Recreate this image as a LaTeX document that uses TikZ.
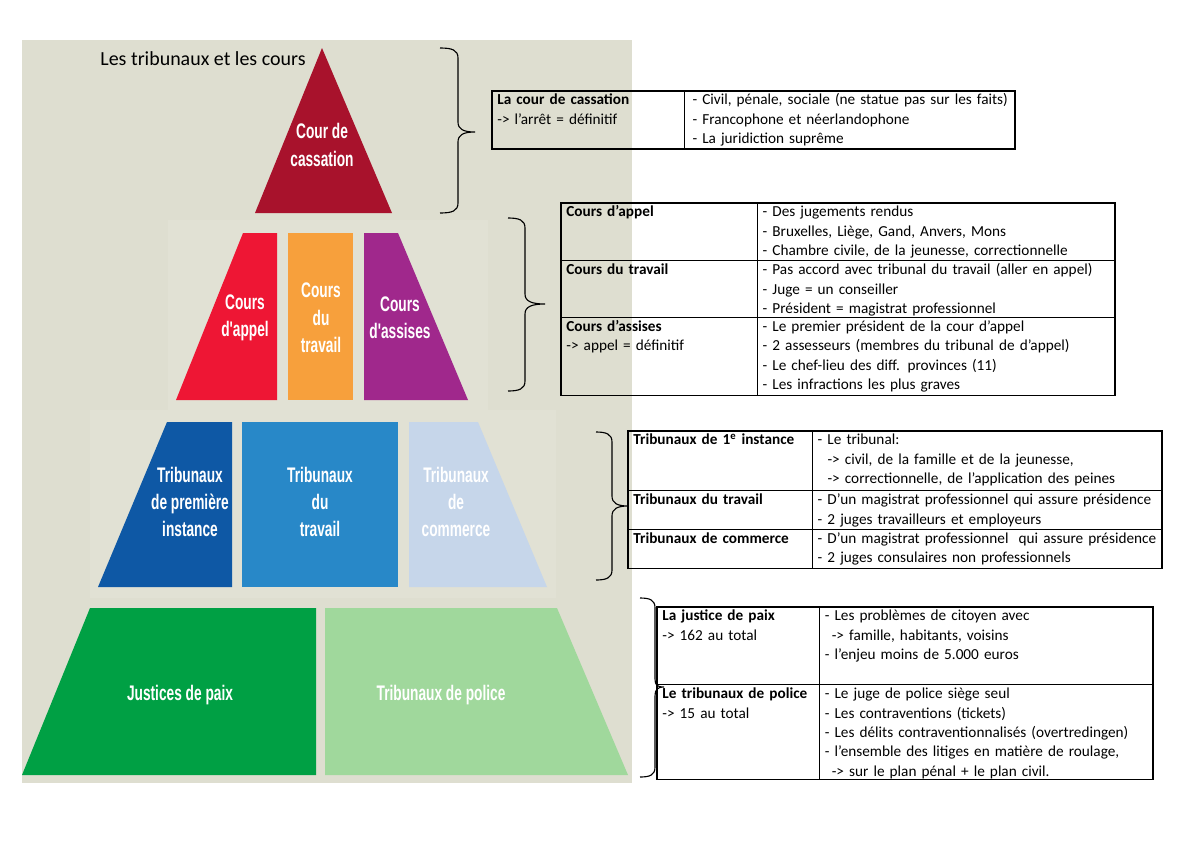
\documentclass[tikz,border=0pt]{standalone}
\usepackage{fontspec}
\setmainfont{Carlito}
\newfontfamily\pyrfont[FakeStretch=0.65]{Liberation Sans}
\usepackage{xcolor}
\usetikzlibrary{positioning}

\definecolor{panelbg}{RGB}{222,222,208}
\definecolor{stripbg}{RGB}{225,225,212}
\definecolor{cassred}{RGB}{168,18,44}
\definecolor{appelred}{RGB}{238,22,52}
\definecolor{travorange}{RGB}{247,160,60}
\definecolor{assispurple}{RGB}{160,40,140}
\definecolor{bluedark}{RGB}{14,88,165}
\definecolor{bluemid}{RGB}{40,136,200}
\definecolor{bluelight}{RGB}{198,214,234}
\definecolor{greendark}{RGB}{0,160,68}
\definecolor{greenlight}{RGB}{160,216,156}

\begin{document}
\begin{tikzpicture}[
x=0.025cm, y=-0.025cm,
lbl/.style={text=white, align=center, font=\pyrfont\bfseries\fontsize{15}{19.5}\selectfont},
cell/.style={draw, line width=0.6pt, anchor=north west, outer sep=0pt, inner xsep=3.8pt, inner ysep=0pt, align=left, text height=9.9pt, font=\fontsize{10.85}{13.8}\selectfont},
frame/.style={draw, line width=1.1pt},
curly/.style={line width=0.8pt}
]
\useasboundingbox (0,0) rectangle (1200,848);
\fill[white] (0,0) rectangle (1200,848);
\fill[panelbg] (22,40) rectangle (632,783);
\fill[stripbg] (168,220) rectangle (488,410);
\fill[stripbg] (90,410) rectangle (556,598);

% pyramid
\fill[cassred] (322,48) -- (392,213) -- (255,213) -- cycle;
\fill[appelred] (243,233) -- (277,233) -- (277,400) -- (176,400) -- cycle;
\fill[travorange] (288,233) rectangle (353,400);
\fill[assispurple] (364,233) -- (398,233) -- (468,400) -- (364,400) -- cycle;
\fill[bluedark] (167,422) -- (232,422) -- (232,587) -- (98,587) -- cycle;
\fill[bluemid] (242,422) rectangle (398,587);
\fill[bluelight] (409,422) -- (478,422) -- (547,587) -- (409,587) -- cycle;
\fill[greendark] (90,608) -- (316,608) -- (316,775) -- (22,775) -- cycle;
\fill[greenlight] (325,608) -- (557,608) -- (628,775) -- (325,775) -- cycle;

\node[font=\fontsize{14.2}{17}\selectfont] (title) at (203,59) {Les tribunaux et les cours};
\node[lbl] (lcass) at (322,145) {Cour de\\cassation};
\node[lbl] (lappel) at (245,318) {Cours\\d'appel};
\node[lbl] (ltrav) at (321,318) {Cours\\du\\travail};
\node[lbl] (lassis) at (400,318) {Cours\\d'assises};
\node[lbl] (linst) at (190,502) {Tribunaux\\de première\\instance};
\node[lbl] (lttrav) at (320,502) {Tribunaux\\du\\travail};
\node[lbl] (lcomm) at (456,502) {Tribunaux\\de\\commerce};
\node[lbl] (lpaix) at (180,695) {Justices de paix};
\node[lbl] (lpolice) at (441,695) {Tribunaux de police};

% braces
\draw[curly] (440,48) .. controls (452,48) and (458,50) .. (458,58) -- (458,122)
  .. controls (458,129) and (463,132) .. (475,132) .. controls (463,132) and (458,135) .. (458,142)
  -- (458,203) .. controls (458,211) and (452,213) .. (440,213);
\draw[curly] (508,218) .. controls (519,218) and (525,220) .. (525,228) -- (525,294)
  .. controls (525,301) and (531,304) .. (545,304) .. controls (531,304) and (525,307) .. (525,314)
  -- (525,381) .. controls (525,389) and (519,391) .. (508,391);
\draw[curly] (596,432) .. controls (606,432) and (612,434) .. (612,442) -- (612,496)
  .. controls (612,503) and (617,506) .. (628,506) .. controls (617,506) and (612,509) .. (612,516)
  -- (612,570) .. controls (612,578) and (606,580) .. (596,580);
\draw[curly] (640,598) .. controls (650,598) and (655,600) .. (655,608) -- (655,679)
  .. controls (655,685) and (657,687) .. (664,687) .. controls (657,687) and (655,690) .. (655,696)
  -- (655,767) .. controls (655,775) and (650,777) .. (640,777);

% table: cour de cassation
\node[cell, text width=129.2pt, text depth=31.2pt] (cassL) at (492,91) {\textbf{La cour de cassation}\\-> l’arrêt = définitif};
\node[cell, right=0pt of cassL, text width=227.7pt, text depth=31.2pt] (cassR) {\hspace*{2pt}- Civil, pénale, sociale (ne statue pas sur les faits)\\\hspace*{2pt}- Francophone et néerlandophone\\\hspace*{2pt}- La juridiction suprême};
\draw[frame] (cassL.north west) rectangle (cassR.south east);

% table: cours
\node[cell, text width=132pt, text depth=31.2pt] (appelL) at (561,203) {\textbf{Cours d’appel}};
\node[cell, right=0pt of appelL, text width=246.8pt, text depth=31.2pt] (appelR) {- Des jugements rendus\\- Bruxelles, Liège, Gand, Anvers, Mons\\- Chambre civile, de la jeunesse, correctionnelle};
\node[cell, below=0pt of appelL, text width=132pt, text depth=30.5pt] (travL) {\textbf{Cours du travail}};
\node[cell, right=0pt of travL, text width=246.8pt, text depth=30.5pt] (travR) {- Pas accord avec tribunal du travail (aller en appel)\\- Juge = un conseiller\\- Président = magistrat professionnel};
\node[cell, below=0pt of travL, text width=132pt, text depth=45.4pt] (assisL) {\textbf{Cours d’assises}\\-> appel = définitif};
\node[cell, right=0pt of assisL, text width=246.8pt, text depth=45.4pt] (assisR) {- Le premier président de la cour d’appel\\- 2 assesseurs (membres du tribunal de d’appel)\\- Le chef-lieu des diff. provinces (11)\\- Les infractions les plus graves};
\draw[frame] (appelL.north west) rectangle (assisR.south east);

% table: tribunaux
\node[cell, text width=123.5pt, text depth=32.6pt] (instL) at (628,431) {\textbf{Tribunaux de 1\textsuperscript{e} instance}};
\node[cell, right=0pt of instL, text width=241.2pt, text depth=32.6pt] (instR) {- Le tribunal:\\\hspace*{7pt}-> civil, de la famille et de la jeunesse,\\\hspace*{7pt}-> correctionnelle, de l’application des peines};
\node[cell, below=0pt of instL, text width=123.5pt, text depth=17.7pt] (ttravL) {\textbf{Tribunaux du travail}};
\node[cell, right=0pt of ttravL, text width=241.2pt, text depth=17.7pt] (ttravR) {\mbox{- D’un magistrat professionnel qui assure présidence}\\- 2 juges travailleurs et employeurs};
\node[cell, below=0pt of ttravL, text width=123.5pt, text depth=17.7pt] (commL) {\textbf{Tribunaux de commerce}};
\node[cell, right=0pt of commL, text width=241.2pt, text depth=17.7pt] (commR) {\mbox{- D’un magistrat professionnel\ \ qui assure présidence}\\- 2 juges consulaires non professionnels};
\draw[frame] (instL.north west) rectangle (commR.south east);

% table: paix et police
\node[cell, text width=107.9pt, text depth=45.4pt] (paixL) at (657,607) {\textbf{La justice de paix}\\-> 162 au total};
\node[cell, right=0pt of paixL, text width=229.8pt, text depth=45.4pt] (paixR) {- Les problèmes de citoyen avec\\\hspace*{5pt}-> famille, habitants, voisins\\- l’enjeu moins de 5.000 euros};
\node[cell, below=0pt of paixL, text width=107.9pt, text depth=57.4pt] (policeL) {\textbf{Le tribunaux de police}\\-> 15 au total};
\node[cell, right=0pt of policeL, text width=229.8pt, text depth=57.4pt] (policeR) {- Le juge de police siège seul\\- Les contraventions (tickets)\\- Les délits contraventionnalisés (overtredingen)\\- l'ensemble des litiges en matière de roulage,\\\hspace*{5pt}-> sur le plan pénal + le plan civil.};
\draw[frame] (paixL.north west) rectangle (policeR.south east);
\end{tikzpicture}
\end{document}
